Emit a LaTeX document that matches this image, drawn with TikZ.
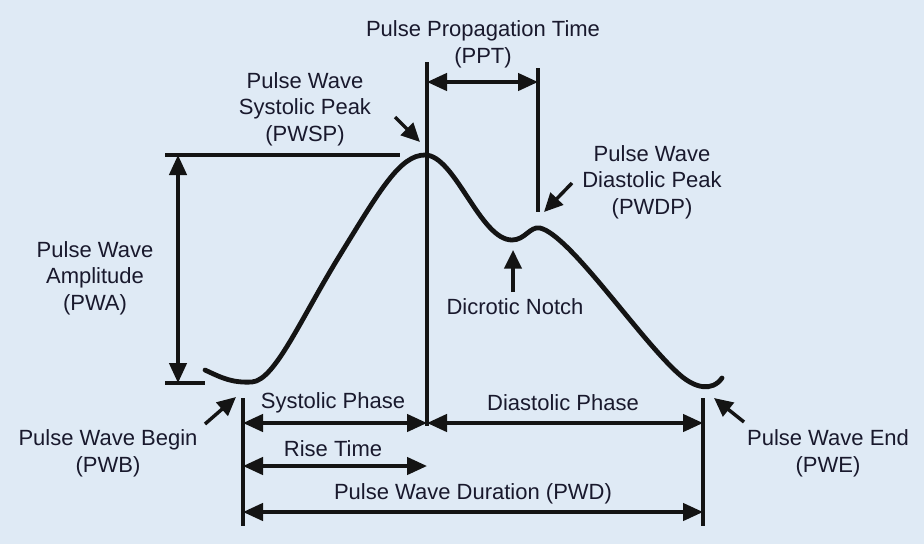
\documentclass[tikz,border=0pt]{standalone}
\usepackage{fontspec}
\setmainfont{Liberation Sans}
\usetikzlibrary{arrows.meta}
\definecolor{bgblue}{RGB}{223,234,245}
\definecolor{txt}{RGB}{25,25,45}
\begin{document}
\begin{tikzpicture}[x=0.75pt,y=-0.75pt,
    lbl/.style={text=txt,font=\fontsize{16.5}{20}\selectfont,align=center,inner sep=0pt},
    bar/.style={line width=2.6pt,black!92},
    dim/.style={bar,{Triangle[length=15pt,width=13pt]}-{Triangle[length=15pt,width=13pt]}},
    ptr/.style={bar,-{Triangle[length=14pt,width=13pt]}}]
  \fill[bgblue] (0,0) rectangle (924,544);
  \useasboundingbox (0,0) rectangle (924,544);
  % the wave
  \draw[line width=3.6pt,black!92,line cap=round] (205,370) .. controls (222,378) and (232,383) .. (252,382)
    .. controls (275,380) and (300,320) .. (340,255)
    .. controls (380,190) and (400,155) .. (425,155)
    .. controls (455,155) and (480,240) .. (512,240)
    .. controls (525,240) and (530,226) .. (540,228)
    .. controls (570,235) and (640,340) .. (680,375)
    .. controls (695,388) and (712,392) .. (722,378);
  % reference points
  \coordinate (ampT) at (178,155);
  \coordinate (ampB) at (178,383);
  \coordinate (pkT) at (427,62);
  \coordinate (pkB) at (427,426);
  \coordinate (dpT) at (538,68);
  \coordinate (dpB) at (538,212);
  \coordinate (bgT) at (243,398);
  \coordinate (bgB) at (243,526);
  \coordinate (enT) at (703,398);
  \coordinate (enB) at (703,526);
  % guide lines
  \draw[bar] (165,155) -- (400,155);
  \draw[bar] (165,383) -- (205,383);
  \draw[bar] (pkT) -- (pkB);
  \draw[bar] (dpT) -- (dpB);
  \draw[bar] (bgT) -- (bgB);
  \draw[bar] (enT) -- (enB);
  % dimensions
  \draw[dim] (ampT) -- (ampB);
  \draw[dim] (427,82) -- (538,82);
  \draw[dim] (243,423) -- (427,423);
  \draw[dim] (427,423) -- (703,423);
  \draw[dim] (243,466) -- (427,466);
  \draw[dim] (243,512) -- (703,512);
  % labels
  \node[lbl] (ppt) at (483,44) {Pulse Propagation Time\\(PPT)};
  \node[lbl] (pwsp) at (305,109) {Pulse Wave\\Systolic Peak\\(PWSP)};
  \node[lbl] (pwdp) at (652,182) {Pulse Wave\\Diastolic Peak\\(PWDP)};
  \node[lbl] (pwa) at (95,278) {Pulse Wave\\Amplitude\\(PWA)};
  \node[lbl] (notch) at (515,307) {Dicrotic Notch};
  \node[lbl] (sys) at (333,403) {Systolic Phase};
  \node[lbl] (dia) at (563,403) {Diastolic Phase};
  \node[lbl] (rise) at (333,449) {Rise Time};
  \node[lbl] (pwd) at (473,494) {Pulse Wave Duration (PWD)};
  \node[lbl] (pwb) at (108,453) {Pulse Wave Begin\\(PWB)};
  \node[lbl] (pwe) at (828,453) {Pulse Wave End\\(PWE)};
  % pointers
  \coordinate (pwspA) at (395,117);
  \coordinate (pwspB) at (420,142);
  \coordinate (pwdpA) at (572,183);
  \coordinate (pwdpB) at (544,212);
  \coordinate (notchA) at (513,292);
  \coordinate (notchB) at (513,250);
  \coordinate (pwbA) at (205,424);
  \coordinate (pwbB) at (236,397);
  \coordinate (pweA) at (744,422);
  \coordinate (pweB) at (714,398);
  \draw[ptr] (pwspA) -- (pwspB);
  \draw[ptr] (pwdpA) -- (pwdpB);
  \draw[ptr] (notchA) -- (notchB);
  \draw[ptr] (pwbA) -- (pwbB);
  \draw[ptr] (pweA) -- (pweB);
\end{tikzpicture}
\end{document}
